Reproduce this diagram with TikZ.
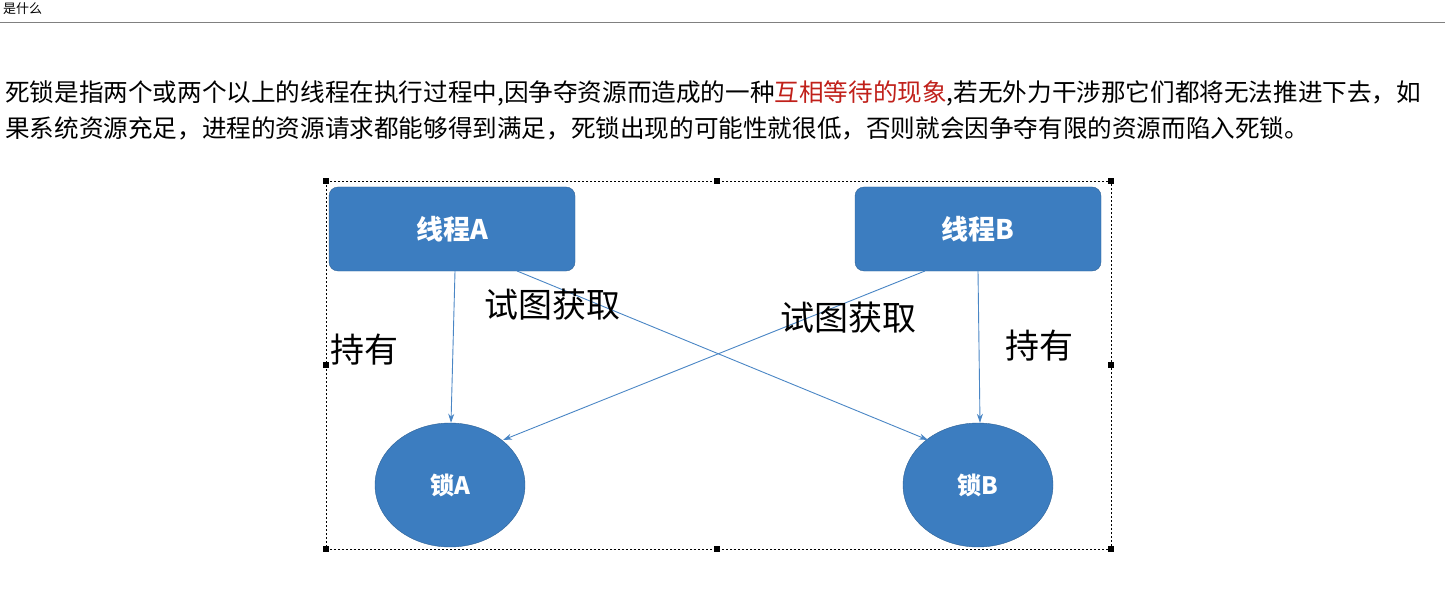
\documentclass[tikz,border=0pt]{standalone}
\usepackage{fontspec}
\newfontfamily\cjk{Noto Sans CJK SC}
\usetikzlibrary{arrows.meta}
\definecolor{boxblue}{HTML}{3C7DC0}
\definecolor{boxedge}{HTML}{2F6296}
\definecolor{arr}{HTML}{4A86C5}
\definecolor{redt}{HTML}{C0201A}
\tikzset{
  proc/.style={draw=boxedge, fill=boxblue, rounded corners=9pt, minimum width=246pt, minimum height=84pt, text=white, font=\cjk\fontsize{27}{30}\selectfont\bfseries},
  lock/.style={draw=boxedge, fill=boxblue, ellipse, minimum width=150pt, minimum height=124pt, text=white, font=\cjk\fontsize{24}{28}\selectfont\bfseries},
  lbl/.style={font=\cjk\fontsize{34}{38}\selectfont, text=black},
  conn/.style={draw=arr, line width=0.9pt, -{Stealth[length=9pt,width=6pt]}},
  handle/.style={fill=black, minimum size=6pt, inner sep=0pt},
  para/.style={font=\cjk\fontsize{24.6}{28}\selectfont, anchor=west, inner sep=0pt}
}
\usetikzlibrary{shapes.geometric}
\begin{document}
\begin{tikzpicture}[x=1pt,y=-1pt]
\useasboundingbox (0,0) rectangle (1445,596);
\node[font=\cjk\fontsize{13}{15}\selectfont, anchor=west, inner sep=0pt] (top) at (3,9) {是什么};
\draw[gray, line width=0.8pt] (0,22) coordinate (l1) -- (1445,22) coordinate (l2);
\node[para] (p1) at (5,93) {死锁是指两个或两个以上的线程在执行过程中,因争夺资源而造成的一种\textcolor{redt}{互相等待的现象},若无外力干涉那它们都将无法推进下去，如};
\node[para] (p2) at (5,128) {果系统资源充足，进程的资源请求都能够得到满足，死锁出现的可能性就很低，否则就会因争夺有限的资源而陷入死锁。};
\draw[dashed, line width=0.8pt, dash pattern=on 2pt off 2pt] (326,181) rectangle (1111,549);
\foreach \p [count=\i] in {(326,181),(717,181),(1111,181),(326,365),(1111,365),(326,549),(717,549),(1111,549)}
  \node[handle] (h\i) at \p {};
\node[proc] (ta) at (452,229) {线程A};
\node[proc] (tb) at (978,229) {线程B};
\node[lock] (la) at (450,485) {锁A};
\node[lock] (lb) at (978,485) {锁B};
\draw[conn] (ta.south -| 455,0) -- (la.north -| 451,0);
\draw[conn] (tb.south -| 978,0) -- (lb.north -| 980,0);
\draw[conn] (517,271) coordinate (sa) -- (928,440) coordinate (eb);
\draw[conn] (925,271) coordinate (sb) -- (503,440) coordinate (ea);
\node[lbl] (hA) at (364,350) {持有};
\node[lbl] (gA) at (552,305) {试图获取};
\node[lbl] (gB) at (848,318) {试图获取};
\node[lbl] (hB) at (1039,346) {持有};
\end{tikzpicture}
\end{document}
